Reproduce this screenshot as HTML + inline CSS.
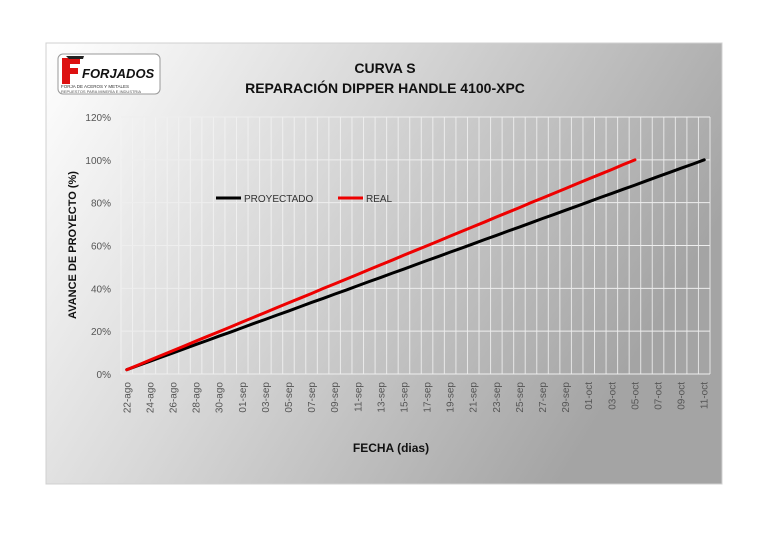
<!DOCTYPE html>
<html><head><meta charset="utf-8"><style>
body{margin:0;background:#fff;width:768px;height:543px;overflow:hidden}
svg{display:block;font-family:"Liberation Sans",sans-serif}
</style></head><body>
<svg width="768" height="543">
<defs>
<linearGradient id="bg" x1="0" y1="0" x2="1" y2="0.4">
<stop offset="0" stop-color="#ffffff"/><stop offset="0.45" stop-color="#d8d8d8"/><stop offset="1" stop-color="#a4a4a4"/>
</linearGradient>
</defs>
<rect x="46" y="43" width="676" height="441" fill="url(#bg)" stroke="#d0d0d0"/>
<g>
<rect x="58" y="54" width="102" height="40" rx="5" fill="#fff" stroke="#999"/>
<polygon points="62,58 80,58 80,64 70,64 70,68 78,68 78,74 70,74 70,84 62,84" fill="#d11"/>
<polygon points="66,56 84,56 83,59 69,59" fill="#222"/>
<text x="82" y="78" font-size="13" font-weight="bold" font-style="italic" fill="#111">FORJADOS</text>
<text x="61" y="88" font-size="4.5" fill="#333">FORJA DE ACEROS Y METALES</text>
<text x="61" y="93" font-size="4" fill="#555">REPUESTOS PARA MINERÍA E INDUSTRIA</text>
</g>
<text x="385" y="73" text-anchor="middle" font-size="14" font-weight="bold" fill="#111">CURVA S</text>
<text x="385" y="93" text-anchor="middle" font-size="14" font-weight="bold" fill="#111">REPARACIÓN DIPPER HANDLE 4100-XPC</text>
<g id="grid"></g><g id="yaxis"></g><g id="xaxis"></g><g id="series"></g>
<text transform="translate(76,245) rotate(-90)" text-anchor="middle" font-size="11" font-weight="bold" fill="#111">AVANCE DE PROYECTO (%)</text>
<text x="391" y="452" text-anchor="middle" font-size="12" font-weight="bold" fill="#111">FECHA (dias)</text>
<g>
<g><line x1="216" y1="198" x2="241" y2="198" stroke="#000" stroke-width="3"/><text x="244" y="202" font-size="10" fill="#333">PROYECTADO</text></g>
<g><line x1="338" y1="198" x2="363" y2="198" stroke="#e00" stroke-width="3"/><text x="366" y="202" font-size="10" fill="#333">REAL</text></g>
</g>
</svg>
<script>
const yTicks=[0,20,40,60,80,100,120];
const days=["22-ago","23-ago","24-ago","25-ago","26-ago","27-ago","28-ago","29-ago","30-ago","31-ago","01-sep","02-sep","03-sep","04-sep","05-sep","06-sep","07-sep","08-sep","09-sep","10-sep","11-sep","12-sep","13-sep","14-sep","15-sep","16-sep","17-sep","18-sep","19-sep","20-sep","21-sep","22-sep","23-sep","24-sep","25-sep","26-sep","27-sep","28-sep","29-sep","30-sep","01-oct","02-oct","03-oct","04-oct","05-oct","06-oct","07-oct","08-oct","09-oct","10-oct","11-oct"];
const proyectado=[2.0,4.0,5.9,7.9,9.8,11.8,13.8,15.7,17.7,19.6,21.6,23.6,25.5,27.5,29.4,31.4,33.4,35.3,37.3,39.2,41.2,43.2,45.1,47.1,49.0,51.0,53.0,54.9,56.9,58.8,60.8,62.8,64.7,66.7,68.6,70.6,72.6,74.5,76.5,78.4,80.4,82.4,84.3,86.3,88.2,90.2,92.2,94.1,96.1,98.0,100];
const real=[2.0,4.2,6.5,8.7,10.9,13.1,15.4,17.6,19.8,22.0,24.3,26.5,28.7,31.0,33.2,35.4,37.6,39.9,42.1,44.3,46.5,48.8,51.0,53.2,55.5,57.7,59.9,62.1,64.4,66.6,68.8,71.0,73.3,75.5,77.7,80.0,82.2,84.4,86.6,88.9,91.1,93.3,95.5,97.8,100];
const NS="http://www.w3.org/2000/svg";
const L=121,R=710,T=117,B=374;
const step=(R-L)/days.length;
const x=i=>L+step*(i+0.5);
const y=v=>B-(v/120)*(B-T);
function mk(t,a,p){const e=document.createElementNS(NS,t);for(const k in a)e.setAttribute(k,a[k]);p.appendChild(e);return e;}
const grid=document.getElementById('grid'),ya=document.getElementById('yaxis'),xa=document.getElementById('xaxis'),se=document.getElementById('series');
for(let i=0;i<=days.length;i++){const g=mk('line',{x1:L+step*i,x2:L+step*i,y1:T,y2:B,stroke:'#f4f4f4','stroke-width':1,'stroke-opacity':0.8},grid);

}
yTicks.forEach(v=>{const g=mk('line',{x1:L,x2:R,y1:y(v),y2:y(v),stroke:'#eeeeee','stroke-width':1},grid);


const t=mk('text',{x:L-10,y:y(v)+4,'text-anchor':'end','font-size':10,fill:'#555'},ya);t.textContent=v+'%';

});
days.forEach((d,i)=>{if(i%2)return;const t=mk('text',{transform:`translate(${x(i)+3.5},${B+8}) rotate(-90)`,'text-anchor':'end','font-size':10,fill:'#555'},xa);t.textContent=d;

});
function line(vals,col,name){const p=mk('polyline',{points:vals.map((v,i)=>x(i)+','+y(v)).join(' '),fill:'none',stroke:col,'stroke-width':3,'stroke-linecap':'round'},se);

}
line(proyectado,'#000','series-proyectado');
line(real,'#e00','series-real');
</script>
</body></html>
